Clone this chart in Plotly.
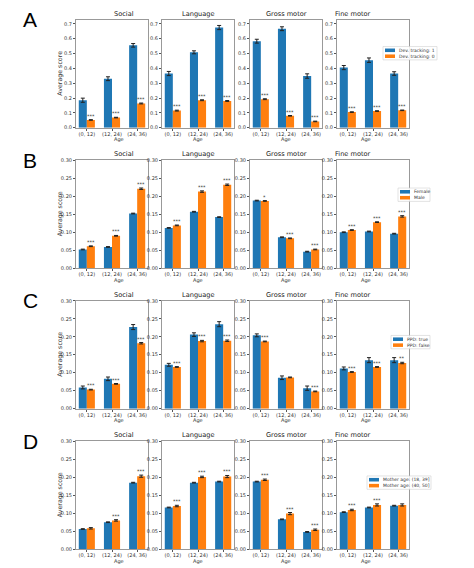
import plotly.graph_objects as go

AGE_BINS = ["(0, 12)", "(12, 24)", "(24, 36)"]
DOMAINS = ["Social", "Language", "Gross motor", "Fine motor"]
PANELS = ["A", "B", "C", "D"]

# one row per domain (Social, Language, Gross motor, Fine motor)
A_LABELS = ["Dev. tracking: 1", "Dev. tracking: 0"]
A_G1 = [[0.185, 0.330, 0.555], [0.365, 0.508, 0.675], [0.583, 0.667, 0.348], [0.405, 0.455, 0.365]]
A_G1_ERR = [[0.014, 0.013, 0.012], [0.014, 0.010, 0.014], [0.013, 0.013, 0.015], [0.014, 0.015, 0.012]]
A_G2 = [[0.052, 0.068, 0.163], [0.115, 0.185, 0.180], [0.192, 0.080, 0.042], [0.105, 0.112, 0.117]]
A_G2_ERR = [[0.002, 0.002, 0.003], [0.003, 0.003, 0.003], [0.003, 0.002, 0.002], [0.002, 0.002, 0.002]]
A_STARS = [["***", "***", "***"], ["***", "***", "***"], ["***", "***", "***"], ["***", "***", "***"]]

B_LABELS = ["Female", "Male"]
B_G1 = [[0.052, 0.059, 0.152], [0.112, 0.157, 0.142], [0.188, 0.086, 0.046], [0.100, 0.102, 0.096]]
B_G1_ERR = [[0.001, 0.001, 0.001], [0.001, 0.001, 0.001], [0.001, 0.001, 0.001], [0.001, 0.001, 0.001]]
B_G2 = [[0.061, 0.090, 0.221], [0.119, 0.213, 0.232], [0.187, 0.083, 0.052], [0.106, 0.128, 0.144]]
B_G2_ERR = [[0.001, 0.001, 0.002], [0.001, 0.002, 0.002], [0.001, 0.001, 0.001], [0.001, 0.001, 0.002]]
B_STARS = [["***", "***", "***"], ["***", "***", "***"], ["*", "***", "***"], ["***", "***", "***"]]

C_LABELS = ["PPD: true", "PPD: false"]
C_G1 = [[0.059, 0.083, 0.227], [0.122, 0.206, 0.235], [0.204, 0.086, 0.057], [0.112, 0.135, 0.135]]
C_G1_ERR = [[0.004, 0.005, 0.007], [0.004, 0.005, 0.007], [0.004, 0.005, 0.006], [0.004, 0.007, 0.007]]
C_G2 = [[0.053, 0.069, 0.182], [0.116, 0.188, 0.189], [0.187, 0.087, 0.048], [0.102, 0.116, 0.127]]
C_G2_ERR = [[0.001, 0.001, 0.002], [0.001, 0.002, 0.002], [0.001, 0.001, 0.001], [0.001, 0.001, 0.002]]
C_STARS = [["***", "***", "***"], ["***", "***", "***"], ["***", "", "***"], ["***", "***", "**"]]

D_LABELS = ["Mother age: (18, 39]", "Mother age: (40, 50]"]
D_G1 = [[0.056, 0.075, 0.185], [0.116, 0.185, 0.188], [0.188, 0.083, 0.048], [0.103, 0.116, 0.121]]
D_G1_ERR = [[0.001, 0.001, 0.001], [0.001, 0.001, 0.001], [0.001, 0.001, 0.001], [0.001, 0.001, 0.001]]
D_G2 = [[0.058, 0.080, 0.203], [0.120, 0.201, 0.202], [0.193, 0.099, 0.054], [0.109, 0.123, 0.123]]
D_G2_ERR = [[0.002, 0.002, 0.003], [0.002, 0.002, 0.003], [0.002, 0.003, 0.002], [0.002, 0.003, 0.003]]
D_STARS = [["", "***", "***"], ["***", "***", "***"], ["***", "***", "***"], ["***", "***", ""]]

ROWS = [
    (A_LABELS, A_G1, A_G1_ERR, A_G2, A_G2_ERR, A_STARS),
    (B_LABELS, B_G1, B_G1_ERR, B_G2, B_G2_ERR, B_STARS),
    (C_LABELS, C_G1, C_G1_ERR, C_G2, C_G2_ERR, C_STARS),
    (D_LABELS, D_G1, D_G1_ERR, D_G2, D_G2_ERR, D_STARS),
]
Y_MAX = [0.727, 0.30, 0.30, 0.30]
Y_DTICK = [0.1, 0.05, 0.05, 0.05]
Y_FMT = [".1f", ".2f", ".2f", ".2f"]

W, H = 474, 568
BLUE, ORANGE = "#1f77b4", "#ff7f0e"
FONT = "DejaVu Sans"
TXT = "#333"
BAR_W = 0.32

# pixel boxes of the axes and legends, measured on the reference
COL_PX = [(76, 148), (162, 234), (250, 322), (337, 409)]
ROW_PX = [(17, 126), (159, 268), (301, 410), (443, 552)]
LEGEND_PX = [(383, 44, 437), (398, 187, 430), (391, 336, 430), (367, 478, 431)]


def px(x, y):
    return x / W, 1 - y / H


fig = go.Figure()
annotations = []
shapes = []
layout = {}
xpos = list(range(len(AGE_BINS)))

for r, (labels, g1, g1e, g2, g2e, stars) in enumerate(ROWS):
    for c, dom in enumerate(DOMAINS):
        idx = r * 4 + c + 1
        xa = "x" if idx == 1 else f"x{idx}"
        ya = "y" if idx == 1 else f"y{idx}"
        fig.add_trace(go.Bar(
            x=xpos, y=g1[c], width=BAR_W, offset=-BAR_W, marker_color=BLUE,
            marker_line_width=0, name=labels[0], showlegend=False,
            error_y=dict(type="data", array=g1e[c], color="#222", thickness=1, width=2),
            xaxis=xa, yaxis=ya,
        ))
        fig.add_trace(go.Bar(
            x=xpos, y=g2[c], width=BAR_W, offset=0, marker_color=ORANGE,
            marker_line_width=0, name=labels[1], showlegend=False,
            error_y=dict(type="data", array=g2e[c], color="#222", thickness=1, width=2),
            xaxis=xa, yaxis=ya,
        ))
        for k in range(len(AGE_BINS)):
            if stars[c][k]:
                annotations.append(dict(
                    x=xpos[k] + BAR_W / 2, y=g2[c][k] + g2e[c][k], xref=xa, yref=ya,
                    text=stars[c][k], showarrow=False, yanchor="bottom", yshift=-1,
                    font=dict(size=5, family=FONT, color=TXT),
                ))

        x0, x1 = COL_PX[c]
        y0, y1 = ROW_PX[r]
        layout["xaxis" if idx == 1 else f"xaxis{idx}"] = dict(
            domain=[x0 / W, x1 / W], anchor=ya, range=[-0.43, 2.43],
            tickvals=xpos, ticktext=AGE_BINS, ticks="outside", ticklen=2, tickwidth=0.6,
            tickcolor="#555", showline=True, linecolor="#999", linewidth=1, mirror=True,
            showgrid=False, zeroline=False, ticklabelstandoff=-1,
            tickfont=dict(size=5, family=FONT, color=TXT),
        )
        layout["yaxis" if idx == 1 else f"yaxis{idx}"] = dict(
            domain=[1 - y1 / H, 1 - y0 / H], anchor=xa, range=[0, Y_MAX[r]],
            dtick=Y_DTICK[r], tickformat=Y_FMT[r], ticks="outside", ticklen=2, tickwidth=0.6,
            tickcolor="#555", showline=True, linecolor="#999", linewidth=1, mirror=True,
            showgrid=False, zeroline=False,
            tickfont=dict(size=5, family=FONT, color=TXT),
        )
        # subplot title and x-axis title
        tx, ty = px((x0 + x1) / 2, y0)
        annotations.append(dict(
            x=tx, y=ty, xref="paper", yref="paper", text=dom, showarrow=False,
            yanchor="bottom", font=dict(size=6.6, family=FONT, color="#222"),
        ))
        ax_, ay_ = px((x0 + x1) / 2, y1 + 12)
        annotations.append(dict(
            x=ax_, y=ay_, xref="paper", yref="paper", text="Age", showarrow=False,
            yanchor="middle", font=dict(size=5, family=FONT, color=TXT),
        ))

    # y-axis title on the left subplot
    yx, yy = px(60, (ROW_PX[r][0] + ROW_PX[r][1]) / 2)
    annotations.append(dict(
        x=yx, y=yy, xref="paper", yref="paper", text="Average score", showarrow=False,
        textangle=-90, xanchor="center", yanchor="middle",
        font=dict(size=6.3, family=FONT, color=TXT),
    ))

    # panel letter
    lx, ly = px(30, ROW_PX[r][0])
    annotations.append(dict(
        x=lx, y=ly, xref="paper", yref="paper", text=PANELS[r], showarrow=False,
        xanchor="center", yanchor="middle",
        font=dict(size=21, family="Liberation Sans", color="#000"),
    ))

    # legend box in matplotlib style
    left, top, right = LEGEND_PX[r]
    bx0, by0 = px(left, top)
    bx1, by1 = px(right, top + 13.5)
    shapes.append(dict(
        type="rect", xref="paper", yref="paper", x0=bx0, y0=by1, x1=bx1, y1=by0,
        line=dict(color="#d0d0d0", width=0.6), fillcolor="rgba(255,255,255,0.85)",
    ))
    for j, (lab, col) in enumerate(zip(labels, [BLUE, ORANGE])):
        cy = top + 3.8 + j * 6
        sx0, sy0 = px(left + 2, cy - 1.8)
        sx1, sy1 = px(left + 12, cy + 1.8)
        shapes.append(dict(
            type="rect", xref="paper", yref="paper", x0=sx0, y0=sy1, x1=sx1, y1=sy0,
            line=dict(width=0), fillcolor=col,
        ))
        ttx, tty = px(left + 14, cy)
        annotations.append(dict(
            x=ttx, y=tty, xref="paper", yref="paper", text=lab, showarrow=False,
            xanchor="left", yanchor="middle", font=dict(size=4.5, family=FONT, color=TXT),
        ))

fig.update_layout(
    width=W, height=H, autosize=False,
    margin=dict(l=0, r=0, t=0, b=0),
    paper_bgcolor="white", plot_bgcolor="white",
    barmode="overlay", annotations=annotations, shapes=shapes,
    showlegend=False,
    **layout,
)

# the page body has a default 8px margin; drop it so the figure fills the window
fig.write_html(
    "out.html",
    config={"displayModeBar": False},
    post_script="document.body.style.margin='0';",
)
